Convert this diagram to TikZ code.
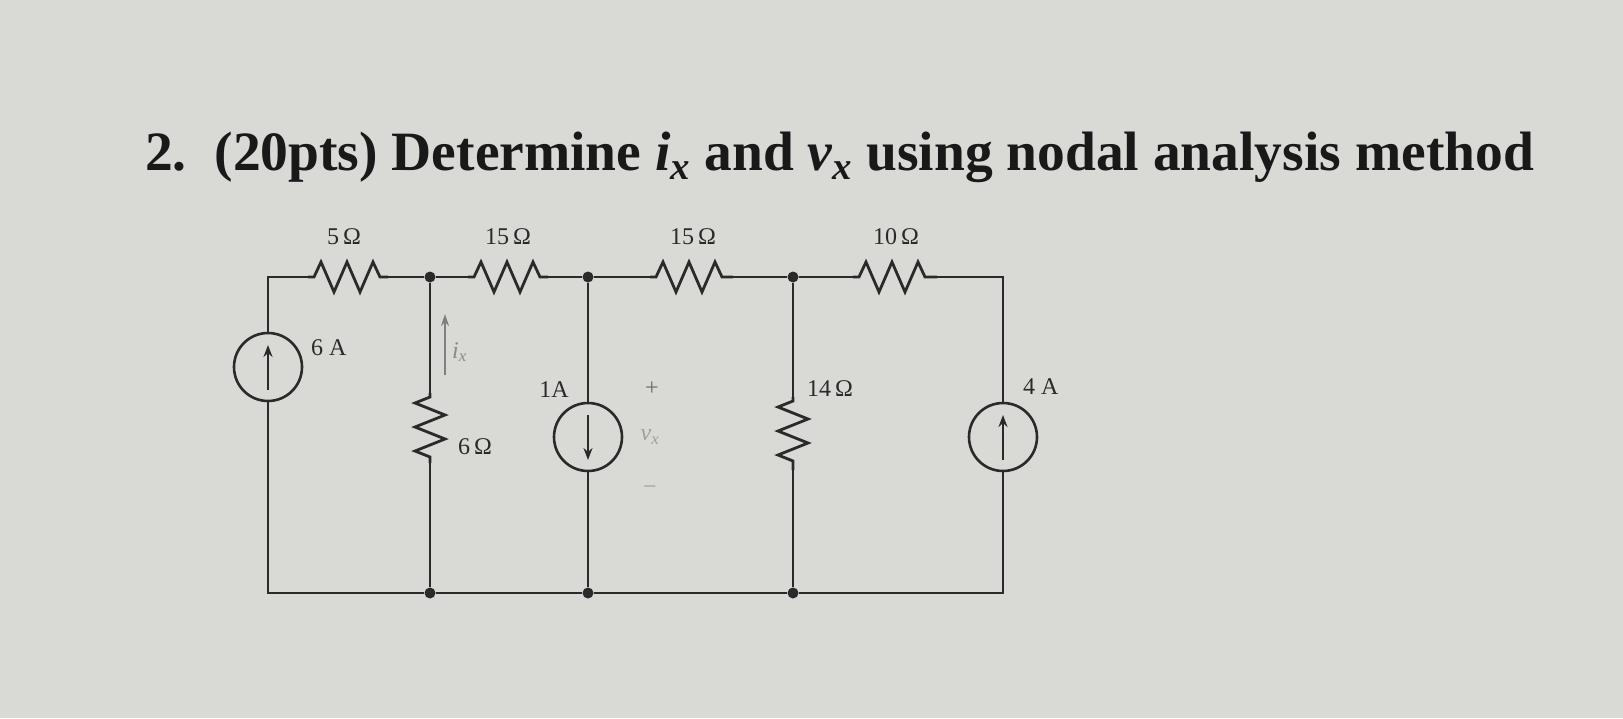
\documentclass[tikz,border=0pt]{standalone}
\usepackage{fontspec}
\setmainfont{Liberation Serif}
\usetikzlibrary{arrows.meta}
\definecolor{paper}{HTML}{D9D9D5}
\definecolor{ink}{HTML}{2A2A2A}
\begin{document}
\begin{tikzpicture}[x=1pt,y=-1pt,
  wire/.style={draw=ink,line width=2.5pt},
  dot/.style={circle,fill=ink,inner sep=0pt,minimum size=11pt},
  src/.style={circle,draw=ink,line width=2.6pt,minimum size=68pt,inner sep=0pt},
  lab/.style={text=ink,font=\fontsize{24}{26}\selectfont,inner sep=1pt},
  zz/.style={draw=ink,line width=2.8pt,line join=miter}]
\fill[paper] (0,0) rectangle (1623,718);
\useasboundingbox (0,0) rectangle (1623,718);
\node[anchor=base west,text=black!90,font=\fontsize{55.5}{58}\selectfont\bfseries,inner sep=0] (title) at (145,170)
  {2.\ \ (20pts) Determine \textit{i\textsubscript{x}} and \textit{v\textsubscript{x}} using nodal analysis method};
% nodes
\coordinate (tl) at (268,277); \coordinate (bl) at (268,593);
\node[dot] (n1) at (430,277) {}; \node[dot] (n2) at (588,277) {}; \node[dot] (n3) at (793,277) {};
\coordinate (tr) at (1003,277); \coordinate (br) at (1003,593);
\node[dot] (b1) at (430,593) {}; \node[dot] (b2) at (588,593) {}; \node[dot] (b3) at (793,593) {};
\node[src] (s6) at (268,367) {}; \node[src] (s1) at (588,437) {}; \node[src] (s4) at (1003,437) {};
\newcommand{\hres}[3]{%
  \draw[zz] (#1,#3) -- ++(6,0) -- ++(7,-15) -- ++(13,30) -- ++(13,-30) -- ++(13,30) -- ++(13,-30) -- ++(7,15) -- (#2,#3);}
\newcommand{\vres}[3]{%
  \draw[zz] (#3,#1) -- ++(0,4) -- ++(-15,6) -- ++(30,12) -- ++(-30,12) -- ++(30,12) -- ++(-30,12) -- ++(15,6) -- (#3,#2);}
\draw[wire] (s6.north) -- (tl) -- (308,277);
\hres{308}{388}{277}
\draw[wire] (388,277) -- (n1) -- (468,277);
\hres{468}{548}{277}
\draw[wire] (548,277) -- (n2) -- (650,277);
\hres{650}{733}{277}
\draw[wire] (733,277) -- (n3) -- (853,277);
\hres{853}{937}{277}
\draw[wire] (937,277) -- (tr) -- (s4.north);
\draw[wire] (s6.south) -- (bl) -- (b1) -- (b2) -- (b3) -- (br) -- (s4.south);
\draw[wire] (n1) -- (430,393); \vres{393}{463}{430} \draw[wire] (430,463) -- (b1);
\draw[wire] (n2) -- (s1.north); \draw[wire] (s1.south) -- (b2);
\draw[wire] (n3) -- (793,397); \vres{397}{470}{793} \draw[wire] (793,470) -- (b3);
% source arrows
\draw[ink,line width=2.2pt,-{Stealth[length=12pt,width=9pt]}] (268,390) -- (268,345);
\draw[ink,line width=2.2pt,-{Stealth[length=12pt,width=9pt]}] (588,415) -- (588,460);
\draw[ink,line width=2.2pt,-{Stealth[length=12pt,width=9pt]}] (1003,460) -- (1003,415);
% ix arrow
\draw[ink!60,line width=2pt,-{Stealth[length=12pt,width=8pt]}] (445,375) -- (445,314);
\node[lab,text=ink!55,anchor=west] (ix) at (451,352) {\textit{i\textsubscript{x}}};
% labels
\node[lab] (l5) at (344,237) {5\,Ω};
\node[lab] (l15a) at (508,237) {15\,Ω};
\node[lab] (l15b) at (693,237) {15\,Ω};
\node[lab] (l10) at (896,237) {10\,Ω};
\node[lab,anchor=west] (l6A) at (310,348) {6 A};
\node[lab,anchor=west] (l6) at (457,447) {6\,Ω};
\node[lab] (l1A) at (554,390) {1A};
\node[lab,anchor=west] (l14) at (806,389) {14\,Ω};
\node[lab,anchor=west] (l4A) at (1022,387) {4 A};
\node[lab,text=ink!70] (plus) at (652,389) {+};
\node[lab,text=ink!45] (vx) at (650,437) {\textit{v\textsubscript{x}}};
\node[lab,text=ink!45] (minus) at (650,490) {−};
\end{tikzpicture}
\end{document}
